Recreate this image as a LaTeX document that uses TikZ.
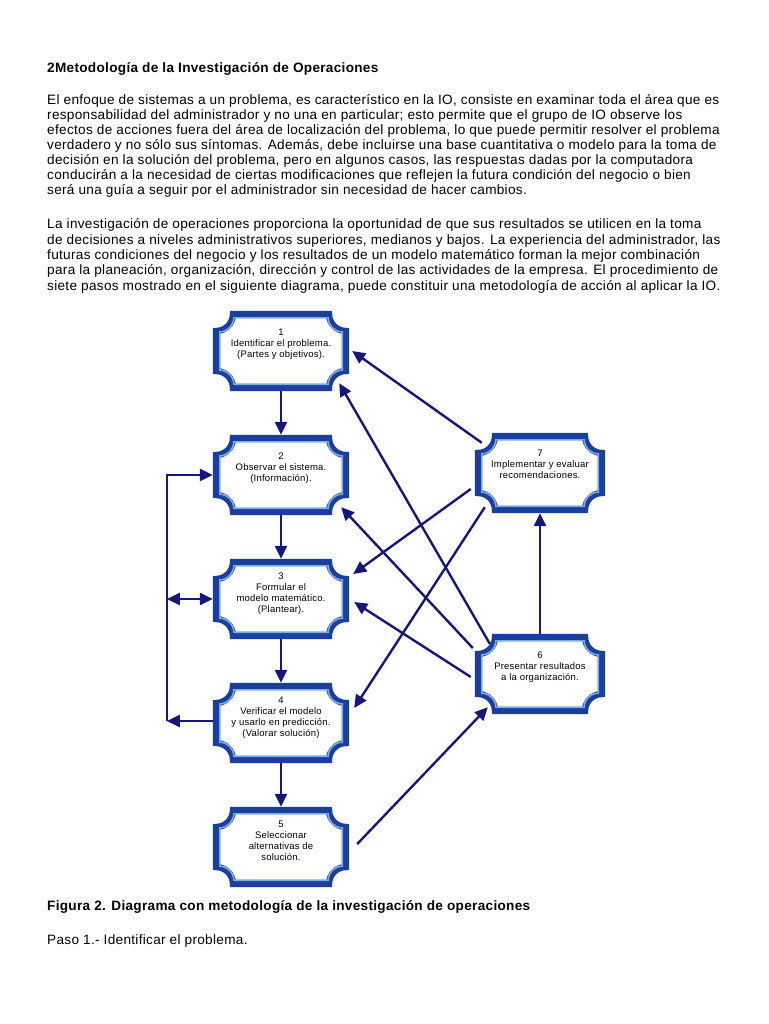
\documentclass[tikz,border=0pt]{standalone}
\usepackage{fontspec}
\setmainfont{Liberation Sans}[LetterSpace=2.2]
\usetikzlibrary{arrows.meta,calc}
\definecolor{navy}{RGB}{22,22,125}
\definecolor{framedark}{RGB}{26,62,155}
\definecolor{framelight}{RGB}{125,170,232}
\newcommand\bframe[1]{%
 \foreach \dd/\rr/\cc/\ww in {3.2/17/framedark/6.4pt, 7/14/framelight/1.6pt}{%
  \pgfmathsetmacro\kk{0.5523*\rr}%
  \draw[\cc, line width=\ww]
   ($(#1.north west)+({\dd+\rr},\dd)$) -- ($(#1.north east)+({-\dd-\rr},\dd)$)
   .. controls ($(#1.north east)+({-\dd-\rr},{\dd+\kk})$) and ($(#1.north east)+({-\dd-\kk},{\dd+\rr})$) .. ($(#1.north east)+(-\dd,{\dd+\rr})$)
   -- ($(#1.south east)+(-\dd,{-\dd-\rr})$)
   .. controls ($(#1.south east)+({-\dd-\kk},{-\dd-\rr})$) and ($(#1.south east)+({-\dd-\rr},{-\dd-\kk})$) .. ($(#1.south east)+({-\dd-\rr},-\dd)$)
   -- ($(#1.south west)+({\dd+\rr},-\dd)$)
   .. controls ($(#1.south west)+({\dd+\rr},{-\dd-\kk})$) and ($(#1.south west)+({\dd+\kk},{-\dd-\rr})$) .. ($(#1.south west)+(\dd,{-\dd-\rr})$)
   -- ($(#1.north west)+(\dd,{\dd+\rr})$)
   .. controls ($(#1.north west)+({\dd+\kk},{\dd+\rr})$) and ($(#1.north west)+({\dd+\rr},{\dd+\kk})$) .. ($(#1.north west)+({\dd+\rr},\dd)$)
   -- cycle;
 }}
\begin{document}
\begin{tikzpicture}[x=1pt,y=-1pt,
  body/.style={anchor=base west, inner sep=0, font=\fontsize{13.6}{15}\selectfont},
  bodybold/.style={body, font=\fontsize{13.6}{15}\selectfont\bfseries},
  btext/.style={anchor=north, inner sep=0, align=center, font=\fontsize{9.5}{11}\selectfont},
  box/.style={minimum width=136pt, minimum height=80pt, inner sep=0, draw=none},
  rbox/.style={box, minimum width=130pt},
  arr/.style={navy, line width=2.4pt, -{Triangle[length=13pt,width=12pt]}},
  darr/.style={navy, line width=2.4pt, {Triangle[length=13pt,width=12pt]}-{Triangle[length=13pt,width=12pt]}}
 ]
\useasboundingbox[fill=white] (0,0) rectangle (768,1024);

\node[bodybold] (title) at (47,73) {2Metodología de la Investigación de Operaciones};
\node[body] (p1a) at (47,105) {El enfoque de sistemas a un problema, es característico en la IO, consiste en examinar toda el área que es};
\node[body] (p1b) at (47,120) {responsabilidad del administrador y no una en particular; esto permite que el grupo de IO observe los};
\node[body] (p1c) at (47,135) {efectos de acciones fuera del área de localización del problema, lo que puede permitir resolver el problema};
\node[body] (p1d) at (47,150) {verdadero y no sólo sus síntomas. Además, debe incluirse una base cuantitativa o modelo para la toma de};
\node[body] (p1e) at (47,165) {decisión en la solución del problema, pero en algunos casos, las respuestas dadas por la computadora};
\node[body] (p1f) at (47,180) {conducirán a la necesidad de ciertas modificaciones que reflejen la futura condición del negocio o bien};
\node[body] (p1g) at (47,195) {será una guía a seguir por el administrador sin necesidad de hacer cambios.};
\node[body] (p2a) at (47,229) {La investigación de operaciones proporciona la oportunidad de que sus resultados se utilicen en la toma};
\node[body] (p2b) at (47,244) {de decisiones a niveles administrativos superiores, medianos y bajos. La experiencia del administrador, las};
\node[body] (p2c) at (47,259) {futuras condiciones del negocio y los resultados de un modelo matemático forman la mejor combinación};
\node[body] (p2d) at (47,274) {para la planeación, organización, dirección y control de las actividades de la empresa. El procedimiento de};
\node[body] (p2e) at (47,290) {siete pasos mostrado en el siguiente diagrama, puede constituir una metodología de acción al aplicar la IO.};

\node[box] (b1) at (281,351) {};
\node[box] (b2) at (281,475) {};
\node[box] (b3) at (281,599) {};
\node[box] (b4) at (281,723) {};
\node[box] (b5) at (281,847) {};
\node[rbox] (b7) at (540,473) {};
\node[rbox] (b6) at (540,674) {};
\bframe{b1}\bframe{b2}\bframe{b3}\bframe{b4}\bframe{b5}\bframe{b6}\bframe{b7}

\node[btext] (t1) at ($(b1.north)+(0,18)$) {1\\Identificar el problema.\\(Partes y objetivos).};
\node[btext] (t2) at ($(b2.north)+(0,18)$) {2\\Observar el sistema.\\(Información).};
\node[btext] (t3) at ($(b3.north)+(0,14)$) {3\\Formular el\\modelo matemático.\\(Plantear).};
\node[btext] (t4) at ($(b4.north)+(0,14)$) {4\\Verificar el modelo\\y usarlo en predicción.\\(Valorar solución)};
\node[btext] (t5) at ($(b5.north)+(0,14)$) {5\\Seleccionar\\alternativas de\\solución.};
\node[btext] (t7) at ($(b7.north)+(0,17)$) {7\\Implementar y evaluar\\recomendaciones.};
\node[btext] (t6) at ($(b6.north)+(0,18)$) {6\\Presentar resultados\\a la organización.};

\draw[arr] (b1.south) -- (b2.north);
\draw[arr] (b2.south) -- (b3.north);
\draw[arr] (b3.south) -- (b4.north);
\draw[arr] (b4.south) -- (b5.north);
\draw[arr] (b6.north) -- (b7.south);
\draw[arr] ($(b7.north west)+(7,10)$) -- ($(b1.east)+(3,0)$);
\draw[arr] ($(b6.north west)+(15,10)$) -- ($(b1.south east)+(-10,-8)$);
\draw[arr] ($(b7.west)+(-4,16)$) -- ($(b3.east)+(4,-25)$);
\draw[arr] ($(b7.south west)+(10,-6)$) -- ($(b4.east)+(5,-15)$);
\draw[arr] ($(b6.west)+(-2,-26)$) -- ($(b2.south east)+(-8,-8)$);
\draw[arr] ($(b6.west)+(-4,3)$) -- ($(b3.east)+(5,3)$);
\draw[arr] ($(b5.east)+(8,-3)$) -- ($(b6.south west)+(13,-7)$);

\coordinate (c4) at ($(b4.west)+(-46,-2)$);
\draw[arr] ($(b4.west)+(0,-2)$) -- (c4);
\draw[arr] (c4) |- (b2.west);
\coordinate (c3) at ($(b3.west)+(-46,0)$);
\draw[darr] (c3) -- (b3.west);

\node[bodybold] (cap) at (47,910) {Figura 2. Diagrama con metodología de la investigación de operaciones};
\node[body] (paso) at (47,944) {Paso 1.- Identificar el problema.};
\end{tikzpicture}
\end{document}
